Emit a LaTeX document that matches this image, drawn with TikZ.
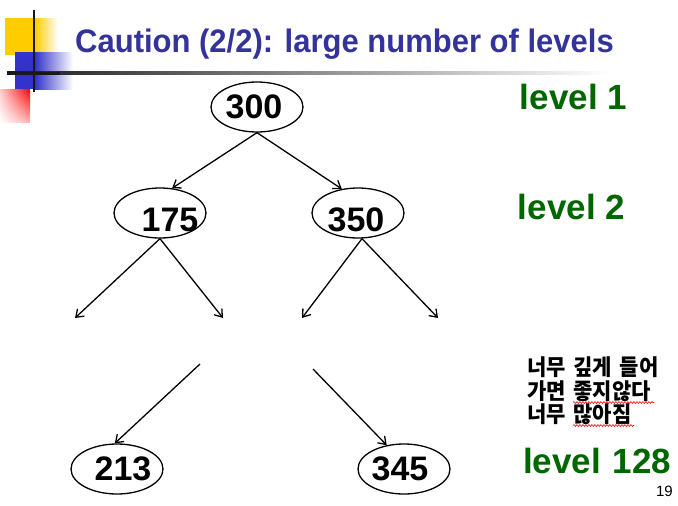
\documentclass[tikz,border=0pt]{standalone}
\usepackage{fontspec}
\setmainfont{Liberation Sans}
\newfontfamily\krfont[WordSpace=1.6]{Noto Sans CJK KR}
\usetikzlibrary{arrows.meta,shapes.geometric,decorations.pathmorphing,shadings}
\definecolor{titleblue}{HTML}{333399}
\definecolor{lvlgreen}{HTML}{006600}
\definecolor{sqyellow}{HTML}{FFCC00}
\definecolor{sqblue}{HTML}{3333CC}
\newcommand{\krline}[1]{\scalebox{1}[1.06]{#1}}
\tikzset{
  oval/.style={draw=black, line width=1.3pt, ellipse, minimum width=92pt, minimum height=50pt, inner sep=0pt},
  num/.style={inner sep=0pt, font=\fontsize{34}{34}\selectfont\bfseries},
  lvl/.style={inner sep=0pt, text=lvlgreen, font=\fontsize{35}{35}\selectfont\bfseries},
  kr/.style={inner sep=0pt, anchor=base west, font=\krfont\fontsize{21}{21}\selectfont\bfseries},
  edge/.style={line width=1.3pt, -{Straight Barb[length=7pt,width=10pt,line width=1.3pt]}},
  squig/.style={red, line width=0.6pt, decorate, decoration={snake, amplitude=0.9pt, segment length=3pt}}
}
\begin{document}
\begin{tikzpicture}[x=1pt,y=-1pt]
\useasboundingbox (0,0) rectangle (678,506);
% decorations top-left
\fill[sqyellow] (5,18) rectangle (35,55);
\shade[left color=sqyellow, right color=white] (35,18) rectangle (58,55);
\fill[sqblue] (15,52) rectangle (35,89);
\shade[left color=sqblue, right color=white] (35,52) rectangle (73,89);
\shade[upper left=red!20, upper right=red, lower right=red!30, lower left=white] (0,89) rectangle (30,122);
\shade[left color=black!90, right color=white] (7,71.8) rectangle (610,74.6);
\fill[black!90] (7,71.8) rectangle (60,74.6);
\fill[black!90] (33,10) rectangle (35,92);
% title
\node[inner sep=0pt, anchor=base west, text=titleblue, font=\fontsize{31}{31}\selectfont\bfseries] (title) at (75,52) {\scalebox{1}[1.05]{Caution (2/2): large number of levels}};
% tree nodes
\node[oval] (n300) at (257,107) {};
\node[num] (t300) at (254,106.5) {300};
\node[oval] (n175) at (160,213) {};
\node[num] (t175) at (170,219.5) {175};
\node[oval] (n350) at (358,213) {};
\node[num] (t350) at (356,219.5) {350};
\node[oval] (n213) at (117,469) {};
\node[num] (t213) at (123,468.5) {213};
\node[oval] (n345) at (404,469) {};
\node[num] (t345) at (400,468.5) {345};
% free ends
\coordinate (c1) at (75,318);
\coordinate (c2) at (223,318);
\coordinate (c3) at (302,318);
\coordinate (c4) at (438,318);
\coordinate (s1) at (200,364);
\coordinate (s2) at (313,369);
% connectors
\draw[edge] (n300.south) -- (n175.64);
\draw[edge] (n300.south) -- (n350.124);
\draw[edge] (n175.south) -- (c1);
\draw[edge] (n175.south) -- (c2);
\draw[edge] ([xshift=4pt]n350.south) -- (c3);
\draw[edge] ([xshift=4pt]n350.south) -- (c4);
\draw[edge] (s1) -- (n213.95);
\draw[edge] (s2) -- (n345.126);
% level labels
\node[lvl] (l1) at (573.5,96.5) {level 1};
\node[lvl] (l2) at (571.5,207) {level 2};
\node[lvl] (l128) at (597,460.5) {level\ \hspace{2pt}128};
% korean text
\node[kr] (k1) at (527,375) {\krline{너무 깊게 들어}};
\node[kr] (k2) at (527,399) {\krline{가면 좋지않다}};
\node[kr] (k3) at (527,422) {\krline{너무 많아짐}};
\draw[squig] (573,402.5) -- (654,402.5);
\draw[squig] (573,425.5) -- (634,425.5);
% page number
\node[inner sep=0pt, anchor=base east, font=\fontsize{15}{15}\selectfont] (pg) at (673,496) {19};
\end{tikzpicture}
\end{document}
